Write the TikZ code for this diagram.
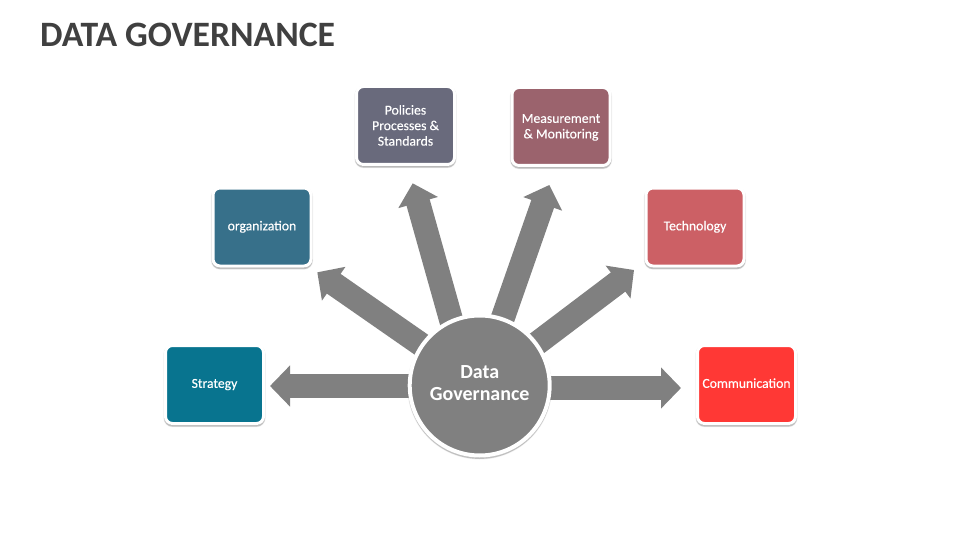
\documentclass[tikz,border=0pt]{standalone}
\usepackage{fontspec}
\setmainfont{Carlito}
\newfontfamily\topicfont[FakeBold=0.3]{Carlito}
\usetikzlibrary{arrows.meta,shadows,backgrounds}
\definecolor{cStrategy}{HTML}{08748F}
\definecolor{cOrg}{HTML}{37708A}
\definecolor{cPolicies}{HTML}{696A7C}
\definecolor{cMeasure}{HTML}{9B636D}
\definecolor{cTech}{HTML}{CC6065}
\definecolor{cComm}{HTML}{FF3835}
\definecolor{cGrey}{HTML}{808080}
\definecolor{cTitle}{HTML}{404040}
\newcommand\tstrut{\rule[-4.4pt]{0pt}{15.5pt}}
\newcommand\tstrutlow[1]{\rule[-4.4pt]{0pt}{#1}}
\tikzset{
  softshadow/.style={
    general shadow={shadow xshift=0pt,shadow yshift=-1.6pt,fill=black,draw=black,line width=#1+1.2pt,opacity=.06},
    general shadow={shadow xshift=0pt,shadow yshift=-1.6pt,fill=black,draw=black,line width=#1,opacity=.2}},
  topic/.style={draw=white,line width=3pt,rounded corners=7pt,minimum width=98pt,minimum height=78pt,
    inner sep=0pt,align=center,text=white,font=\topicfont\fontsize{13.7pt}{15.5pt}\selectfont,softshadow=3pt},
  hubnode/.style={circle,draw=white,line width=4pt,fill=cGrey,minimum size=140pt,inner sep=0pt,
    align=center,text=white,font=\bfseries\fontsize{20pt}{22pt}\selectfont,softshadow=3.6pt},
  flow/.style={draw=cGrey,line width=24pt,-{Triangle[length=20pt,width=40pt]}},
  heading/.style={anchor=west,inner sep=0pt,text=cTitle,font=\bfseries\fontsize{35.7pt}{40pt}\selectfont}
}
\begin{document}
\begin{tikzpicture}[x=1pt,y=-1pt]
\useasboundingbox (0,0) rectangle (960,540);
\node[heading] (title) at (40,34.5) {DATA GOVERNANCE};
\node[hubnode] (hub) at (479.7,385.5) {Data\\Governance\\[-17pt]\mbox{}};
\node[topic,fill=cStrategy] (strategy) at (214.5,384.5) {\tstrut Strategy};
\node[topic,fill=cOrg] (org) at (262,227) {\tstrut organization};
\node[topic,fill=cPolicies] (policies) at (405.5,125.5) {\tstrutlow{18pt}Policies\\\tstrut Processes \&\\\tstrut Standards};
\node[topic,fill=cMeasure] (measure) at (561,126.5) {\tstrutlow{17pt}Measurement\\\tstrut\& Monitoring};
\node[topic,fill=cTech] (tech) at (695,227) {\tstrut Technology};
\node[topic,fill=cComm] (comm) at (746.5,384.5) {\tstrut Communication};
\begin{pgfonlayer}{background}
\fill[white] (0,0) rectangle (960,540);
\draw[flow] ([shift={(-49.7,0.5)}]hub.center) -- ([shift={(55.5,1.5)}]strategy.center);
\draw[flow] ([shift={(-39.2,-27.5)}]hub.center) -- ([shift={(55.3,45.3)}]org.center);
\draw[flow] ([shift={(-20.7,-37.5)}]hub.center) -- ([shift={(7.2,57.8)}]policies.center);
\draw[flow] ([shift={(13.3,-39.5)}]hub.center) -- ([shift={(-11.7,58.5)}]measure.center);
\draw[flow] ([shift={(35.3,-25.5)}]hub.center) -- ([shift={(-61,43)}]tech.center);
\draw[flow] ([shift={(50.3,2.5)}]hub.center) -- ([shift={(-65.5,3.5)}]comm.center);
\end{pgfonlayer}
\end{tikzpicture}
\end{document}
